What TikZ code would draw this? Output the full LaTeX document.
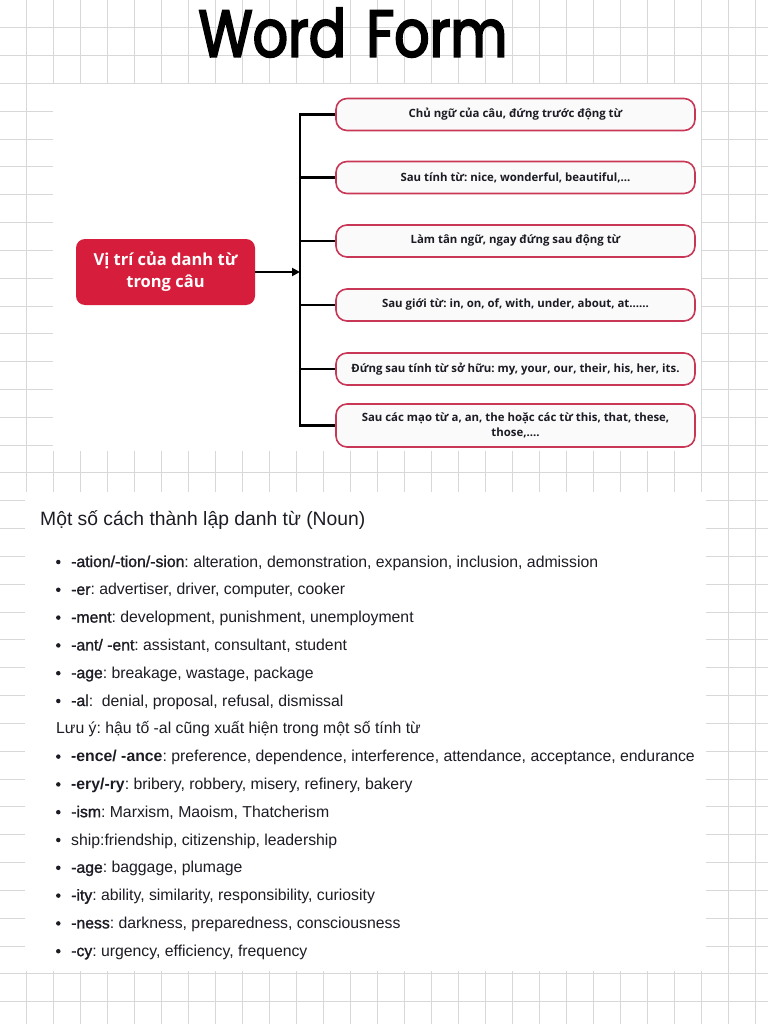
\documentclass[tikz,border=0pt]{standalone}
\usepackage{fontspec}
\setmainfont{Liberation Sans}
\newfontfamily\titlefont[FakeStretch=0.84, FakeBold=3]{Poppins}
\newfontfamily\boxfont{Open Sans}
\usetikzlibrary{arrows.meta}
\definecolor{crimson}{RGB}{214,30,60}
\definecolor{rim}{RGB}{200,56,86}
\definecolor{paper}{RGB}{250,250,250}
\definecolor{ink}{RGB}{28,28,36}
\definecolor{gridgray}{RGB}{216,216,216}
\newcommand{\pfx}[1]{{\addfontfeature{FakeBold=1.4}#1}}
\newcommand{\pfxb}[1]{{\bfseries #1}}
\frenchspacing

\begin{document}
\begin{tikzpicture}[x=1pt, y=-1pt,
    % Styles
    root/.style={
      rectangle,
      fill=crimson,
      text=white,
      align=center,
      minimum width=179pt,
      minimum height=66pt,
      rounded corners=9pt,
      font=\boxfont\bfseries\fontsize{16.5}{22}\selectfont,
    },
    leaf/.style={
      rectangle,
      draw=rim,
      fill=paper,
      line width=1.6pt,
      text=ink,
      align=center,
      minimum width=359pt,
      minimum height=32pt,
      rounded corners=11pt,
      font=\boxfont\bfseries\fontsize{11.4}{15}\selectfont,
    },
    bus/.style={line width=2.6pt, black},
    dot/.style={circle, fill=ink, inner sep=0pt, minimum size=4.5pt},
    item/.style={anchor=base west, inner sep=0pt, text=ink, font=\fontsize{15.8}{18}\selectfont},
  ]
  \useasboundingbox (0,0) rectangle (768,1024);
  \fill[white] (0,0) rectangle (768,1024);
  % grid paper
  \foreach \i in {0,...,27}
    \draw[gridgray, line width=1pt] (26.7+27*\i,0) -- (26.7+27*\i,1024);
  \foreach \j in {0,...,35}
    \draw[gridgray, line width=1pt] (0,27.7+27.83*\j) -- (768,27.7+27.83*\j);
  % pasted pictures
  \fill[white] (53.3,84) rectangle (701,451);
  \fill[white] (25,491.5) rectangle (706,971);

  \node[anchor=base, inner sep=0pt, font=\titlefont\fontsize{66}{66}\selectfont] (title) at (353,56.7) {Word\hspace{20pt}Form};

  % noun positions
  \node[root] (root) at (165.5,272) {Vị trí của danh từ\\trong câu};
  \coordinate (hub) at (300,272);
  \node[leaf] (leaf1) at (515.5,114.5) {Chủ ngữ của câu, đứng trước động từ};
  \node[leaf] (leaf2) at (515.5,177.5) {Sau tính từ: nice, wonderful, beautiful,...};
  \node[leaf] (leaf3) at (515.5,241) {Làm tân ngữ, ngay đứng sau động từ};
  \node[leaf] (leaf4) at (515.5,305) {Sau giới từ: in, on, of, with, under, about, at......};
  \node[leaf] (leaf5) at (515.5,369) {Đứng sau tính từ sở hữu: my, your, our, their, his, her, its.};
  \node[leaf, minimum height=43pt] (leaf6) at (515.5,425.5) {Sau các mạo từ a, an, the hoặc các từ this, that, these,\\those,....};
  \draw[bus, -{Triangle[length=8pt,width=8pt]}] (root.east) -- (hub);
  \draw[bus] (leaf1.west) -| (hub |- leaf6.west) -- (leaf6.west);
  \foreach \k in {2,...,5}
    \draw[bus] (hub |- leaf\k.west) -- (leaf\k.west);

  % noun suffixes
  \node[item, font=\fontsize{19.3}{22}\selectfont] (head) at (40,525) {Một số cách thành lập danh từ (Noun)};
  \node[dot] (b1) at (58.3,562) {};
  \node[item] (i1) at (71,567) {\pfx{-ation/-tion/-sion}: alteration, demonstration, expansion, inclusion, admission};
  \node[dot] (b2) at (58.3,589.8) {};
  \node[item] (i2) at (71,594.8) {\pfx{-er}: advertiser, driver, computer, cooker};
  \node[dot] (b3) at (58.3,617.6) {};
  \node[item] (i3) at (71,622.6) {\pfx{-ment}: development, punishment, unemployment};
  \node[dot] (b4) at (58.3,645.4) {};
  \node[item] (i4) at (71,650.4) {\pfx{-ant/ -ent}: assistant, consultant, student};
  \node[dot] (b5) at (58.3,673.2) {};
  \node[item] (i5) at (71,678.2) {\pfx{-age}: breakage, wastage, package};
  \node[dot] (b6) at (58.3,701) {};
  \node[item] (i6) at (71,706) {\pfx{-al}:\ \ denial, proposal, refusal, dismissal};
  \node[item] (note) at (56,733.8) {Lưu ý: hậu tố -al cũng xuất hiện trong một số tính từ};
  \node[dot] (b7) at (58.3,756.6) {};
  \node[item] (i7) at (71,761.6) {\pfxb{-ence/ -ance}: preference, dependence, interference, attendance, acceptance, endurance};
  \node[dot] (b8) at (58.3,784.4) {};
  \node[item] (i8) at (71,789.4) {\pfxb{-ery/-ry}: bribery, robbery, misery, refinery, bakery};
  \node[dot] (b9) at (58.3,812.2) {};
  \node[item] (i9) at (71,817.2) {\pfx{-ism}: Marxism, Maoism, Thatcherism};
  \node[dot] (b10) at (58.3,840) {};
  \node[item] (i10) at (71,845) {ship:friendship, citizenship, leadership};
  \node[dot] (b11) at (58.3,867.8) {};
  \node[item] (i11) at (71,872.8) {\pfx{-age}: baggage, plumage};
  \node[dot] (b12) at (58.3,895.6) {};
  \node[item] (i12) at (71,900.6) {\pfx{-ity}: ability, similarity, responsibility, curiosity};
  \node[dot] (b13) at (58.3,923.4) {};
  \node[item] (i13) at (71,928.4) {\pfx{-ness}: darkness, preparedness, consciousness};
  \node[dot] (b14) at (58.3,951.2) {};
  \node[item] (i14) at (71,956.2) {\pfx{-cy}: urgency, efficiency, frequency};
\end{tikzpicture}
\end{document}
